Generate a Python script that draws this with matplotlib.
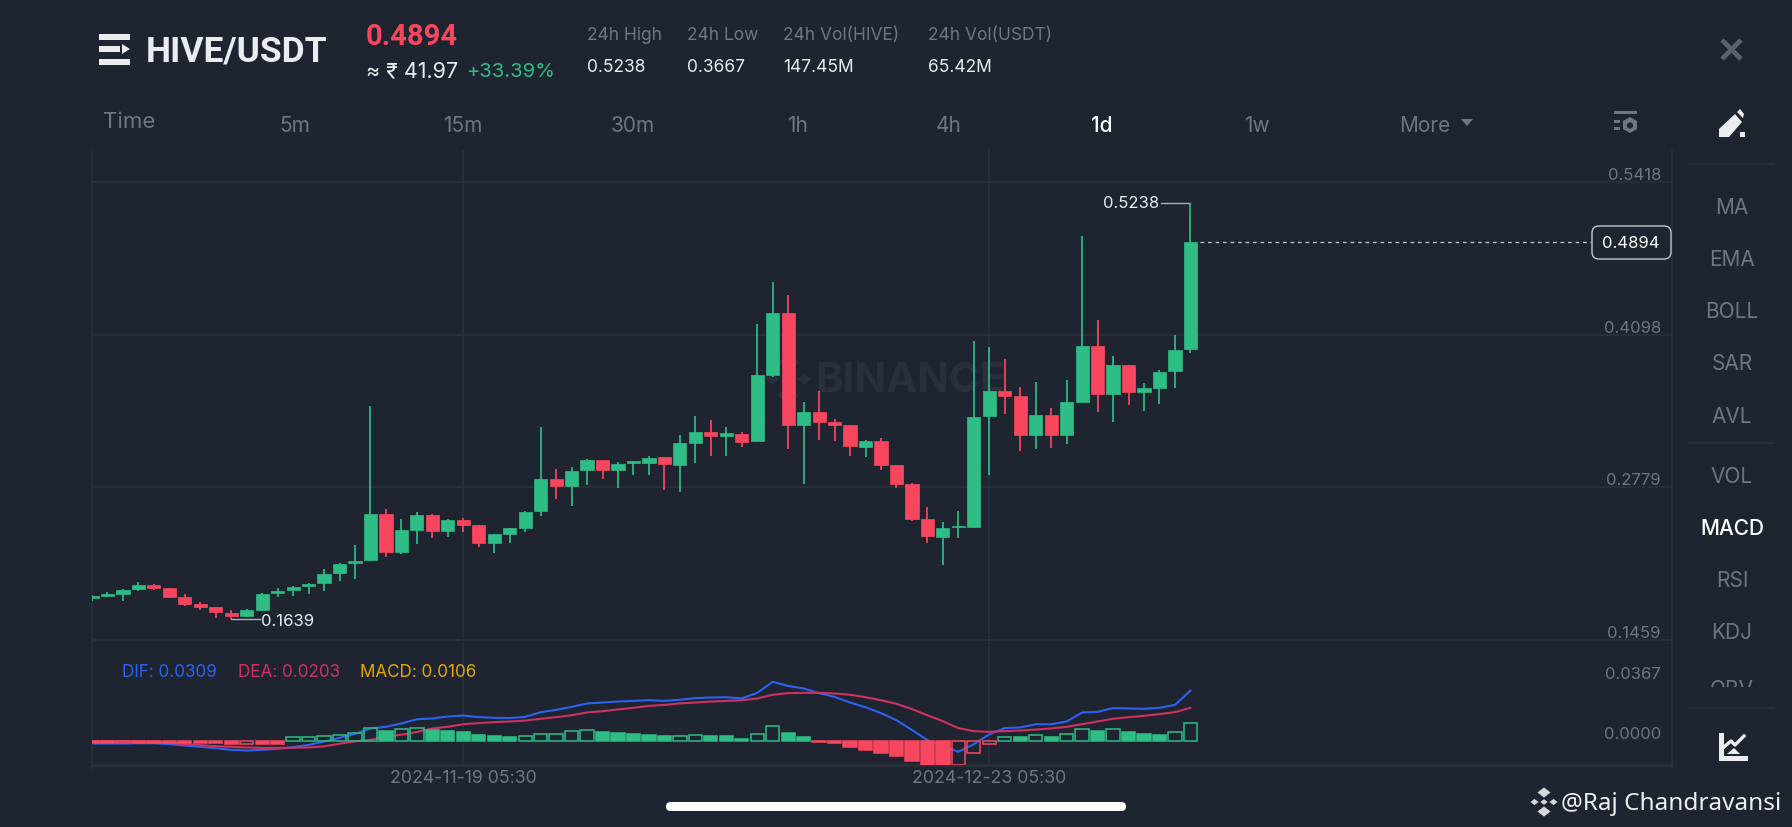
import matplotlib
matplotlib.use("Agg")
import matplotlib.pyplot as plt
from matplotlib.patches import FancyBboxPatch, Polygon, Rectangle

W, H = 1792, 828
BG = "#1e2530"
GRID = "#2b313c"
GREEN = "#2ebd85"
RED = "#f9465f"
MUTED = "#6f7682"
LIGHT = "#eaecef"
FONT = ["Inter", "DejaVu Sans"]
plt.rcParams["font.family"] = FONT

# candles, one value per day
opens = [.1824, .1841, .1859, .1896, .1936, .1908, .1827, .1772, .1743, .1695, .1663, .1715,
         .1862, .1887, .1922, .1948, .2037, .2121, .2147, .2550, .2216, .2409, .2541, .2400,
         .2498, .2449, .2299, .2377, .2426, .2570, .2847, .2786, .2927, .3016, .2924, .2987,
         .2990, .3036, .2973, .3160, .3255, .3223, .3238, .3174, .3750, .4280, .3313, .3425,
         .3341, .3313, .3125, .3177, .2967, .2806, .2501, .2351, .2431, .2434, .3390, .3609,
         .3563, .3229, .3405, .3229, .3517, .3998, .3586, .3837, .3598, .3635, .3779, .3969]
highs = [.1850, .1870, .1896, .1957, .1939, .1908, .1859, .1787, .1743, .1715, .1729, .1862,
         .1905, .1925, .1951, .2072, .2121, .2276, .3477, .2593, .2507, .2561, .2544, .2501,
         .2512, .2452, .2374, .2426, .2573, .3296, .2933, .2950, .3022, .3016, .2993, .3002,
         .3051, .3036, .3232, .3396, .3356, .3298, .3255, .4185, .4548, .4442, .3511, .3609,
         .3365, .3316, .3186, .3200, .2967, .2812, .2604, .2475, .2573, .4044, .3987, .3886,
         .3641, .3690, .3460, .3707, .4946, .4223, .3915, .3837, .3678, .3788, .4090, .5238]
lows = [.1795, .1827, .1798, .1882, .1893, .1821, .1752, .1720, .1646, .1639, .1660, .1712,
        .1833, .1839, .1856, .1879, .1968, .1985, .2144, .2178, .2199, .2285, .2343, .2345,
        .2391, .2262, .2210, .2294, .2389, .2530, .2677, .2619, .2795, .2849, .2771, .2884,
        .2881, .2754, .2737, .2987, .3051, .3051, .3128, .3172, .3730, .3108, .2809, .3186,
        .3180, .3048, .3036, .2927, .2771, .2486, .2293, .2106, .2339, .2429, .2886, .3411,
        .3088, .3108, .3117, .3154, .3511, .3425, .3344, .3485, .3437, .3497, .3635, .3938]
closes = [.1839, .1856, .1893, .1936, .1911, .1833, .1772, .1743, .1697, .1663, .1715, .1859,
          .1885, .1916, .1945, .2031, .2118, .2141, .2550, .2219, .2409, .2541, .2400, .2498,
          .2455, .2299, .2371, .2423, .2567, .2847, .2786, .2921, .3016, .2924, .2979, .3002,
          .3030, .2976, .3157, .3255, .3223, .3244, .3172, .3750, .4286, .3313, .3425, .3341,
          .3316, .3131, .3177, .2970, .2809, .2506, .2354, .2426, .2446, .3388, .3609, .3566,
          .3229, .3399, .3229, .3514, .3998, .3586, .3837, .3598, .3632, .3773, .3966, .4894]

# MACD panel
dif = [-.0019, -.0019, -.0019, -.0017, -.0017, -.0023, -.0031, -.0039, -.0048, -.0058, -.0062, -.0058,
       -.0052, -.0041, -.0027, -.0006, .0017, .0041, .0075, .0085, .0106, .0132, .0137, .0149,
       .0155, .0145, .0141, .0139, .0147, .0176, .0190, .0209, .0230, .0236, .0242, .0246,
       .0250, .0246, .0253, .0263, .0267, .0269, .0261, .0296, .0364, .0339, .0323, .0294,
       .0271, .0236, .0207, .0170, .0126, .0066, .0002, -.0033, -.0070, -.0023, .0039, .0077,
       .0081, .0101, .0101, .0118, .0174, .0178, .0201, .0199, .0197, .0203, .0221, .0309]
dea = [-.0004, -.0004, -.0005, -.0006, -.0006, -.0014, -.0023, -.0029, -.0035, -.0039, -.0043, -.0046,
       -.0046, -.0045, -.0043, -.0036, -.0020, -.0005, .0004, .0025, .0036, .0053, .0075, .0085,
       .0101, .0108, .0114, .0118, .0124, .0135, .0145, .0157, .0174, .0182, .0193, .0203,
       .0215, .0221, .0230, .0236, .0242, .0246, .0250, .0261, .0284, .0294, .0296, .0296,
       .0292, .0284, .0269, .0250, .0228, .0195, .0157, .0120, .0077, .0058, .0054, .0058,
       .0062, .0068, .0075, .0085, .0101, .0118, .0135, .0145, .0153, .0164, .0176, .0203]
macd = [-.0017, -.0018, -.0016, -.0016, -.0016, -.0016, -.0017, -.0017, -.0018, -.0020, -.0019, -.0019,
        -.0019, .0019, .0021, .0029, .0037, .0046, .0075, .0060, .0070, .0079, .0064, .0060,
        .0054, .0033, .0025, .0019, .0027, .0041, .0043, .0056, .0064, .0052, .0048, .0041,
        .0037, .0025, .0031, .0035, .0027, .0025, .0012, .0039, .0091, .0046, .0023, -.0008,
        -.0017, -.0043, -.0056, -.0077, -.0097, -.0126, -.0149, -.0153, -.0149, -.0079, -.0019, .0023,
        .0019, .0033, .0021, .0039, .0072, .0060, .0070, .0052, .0039, .0037, .0050, .0106]

price_ticks = [0.5418, 0.4098, 0.2779, 0.1459]
macd_ticks = [0.0367, 0.0000]
date_pos = [24, 58]
date_labels = ["2024-11-19 05:30", "2024-12-23 05:30"]
tabs = ["5m", "15m", "30m", "1h", "4h", "1d", "1w", "More"]
tab_x = [295, 463, 633, 797, 949, 1102, 1257, 1425]
side_items = ["MA", "EMA", "BOLL", "SAR", "AVL", "VOL", "MACD", "RSI", "KDJ", "OBV"]
side_y = [208, 260, 312, 364, 417, 477, 529, 581, 633, 690]
stat_names = ["24h High", "24h Low", "24h Vol(HIVE)", "24h Vol(USDT)"]
stat_vals = ["0.5238", "0.3667", "147.45M", "65.42M"]
stat_x = [587, 687, 783, 928]


def rect(l, t, r, b):
    return [l / W, 1 - b / H, (r - l) / W, (b - t) / H]


def pixel_axes(z):
    a = fig.add_axes([0, 0, 1, 1], zorder=z)
    a.set_xlim(0, W)
    a.set_ylim(H, 0)
    a.axis("off")
    a.patch.set_alpha(0)
    return a


def binance_logo(a, cx, cy, r, color):
    # five small diamonds, roughly the exchange logo
    for dx, dy, s in [(0, -.68, .36), (0, .68, .36), (-.68, 0, .22), (.68, 0, .22), (0, 0, .2)]:
        x, y = cx + dx * r, cy + dy * r
        q = s * r
        a.add_patch(Polygon([(x - q * 1.3, y), (x, y - q), (x + q * 1.3, y), (x, y + q)], fc=color, ec="none"))


fig = plt.figure(figsize=(W / 100, H / 100), dpi=100, facecolor=BG)

# watermark sits under the candles
back = pixel_axes(-1)
back.text(910, 381, "BINANCE", color="#2a303b", fontsize=30, fontweight="bold", ha="center", va="center")
binance_logo(back, 788, 380, 24, "#2a303b")

days = list(range(len(opens)))

ax = fig.add_axes(rect(92, 151, 1672, 641), zorder=1)
ax.patch.set_alpha(0)
colors = [GREEN if c >= o else RED for o, c in zip(opens, closes)]
ax.vlines(days, lows, highs, colors=colors, linewidth=1.25, zorder=3)
ax.bar(days, [abs(c - o) for o, c in zip(opens, closes)], bottom=[min(o, c) for o, c in zip(opens, closes)],
       width=0.85, color=colors, edgecolor=colors, linewidth=0.5, zorder=4)
ax.set_xlim(0, 102.13)
ax.set_ylim(0.1459, 0.5692)
ax.set_yticks(price_ticks)
ax.set_yticklabels([f"{t:.4f}" for t in price_ticks], color=MUTED, fontsize=12, ha="right", va="bottom")
ax.yaxis.tick_right()
ax.tick_params(axis="y", length=0, pad=-8)
ax.set_xticks(date_pos)
ax.tick_params(axis="x", length=0, labelbottom=False)
ax.grid(True, color=GRID, linewidth=1.1)
ax.set_axisbelow(True)

# high, low and last price markers
i_high = highs.index(max(highs))
i_low = lows.index(min(lows))
ax.plot([i_high - 1.9, i_high], [highs[i_high]] * 2, color="#aeb3ba", linewidth=1, zorder=2)
ax.text(i_high - 2, highs[i_high], f"{highs[i_high]:.4f}", color=LIGHT, fontsize=12, ha="right", va="center")
ax.plot([i_low, i_low + 1.85], [lows[i_low]] * 2, color="#aeb3ba", linewidth=1, zorder=2)
ax.text(i_low + 1.95, lows[i_low] - 0.0015, f"{lows[i_low]:.4f}", color=LIGHT, fontsize=12, ha="left", va="center")
ax.plot([len(days) - 0.4, 96.9], [closes[-1]] * 2, color="#c4c8ce", linewidth=0.9, linestyle=(0, (3, 3)), zorder=2)

ax2 = fig.add_axes(rect(92, 641, 1672, 766), zorder=1)
ax2.patch.set_alpha(0)
ax2.plot(days, dif, color="#2b62f0", linewidth=1.5, zorder=2)
ax2.plot(days, dea, color="#cf3160", linewidth=1.5, zorder=2)
for i, v in enumerate(macd):
    col = GREEN if v >= 0 else RED
    rising = i > 0 and v > macd[i - 1]
    ax2.bar(i, v, width=0.86, facecolor="none" if rising else col, edgecolor=col, linewidth=1.1, zorder=3)
ax2.set_xlim(0, 102.13)
ax2.set_ylim(-0.0152, 0.0624)
ax2.set_yticks(macd_ticks)
ax2.set_yticklabels([f"{t:.4f}" for t in macd_ticks], color=MUTED, fontsize=12, ha="right", va="bottom")
ax2.yaxis.tick_right()
ax2.tick_params(axis="y", length=0, pad=-8)
ax2.set_xticks(date_pos)
ax2.set_xticklabels(date_labels, color=MUTED, fontsize=12.8)
ax2.tick_params(axis="x", length=0, pad=3)
ax2.grid(True, axis="x", color=GRID, linewidth=1.1)
ax2.set_axisbelow(True)

for a in (ax, ax2):
    for name, s in a.spines.items():
        s.set_color(GRID)
        s.set_linewidth(1.1)
    a.spines["top"].set_visible(a is ax2)
ax2.spines["bottom"].set_linewidth(1.8)

# everything around the plots is placed in screen pixels
px = pixel_axes(5)
px.plot([92, 92], [766, 771], color=GRID, linewidth=1.1)
px.plot([1672, 1672], [766, 769], color=GRID, linewidth=1.1)

# header
for y in (38, 50, 63):
    px.add_patch(Rectangle((99, y - 3), 21 if y == 50 else 31, 6, fc=LIGHT, ec="none"))
px.add_patch(Polygon([(122, 45), (130, 50), (122, 55)], fc=LIGHT, ec="none"))
px.text(146, 52, "HIVE/USDT", color=LIGHT, fontsize=25.5, fontweight="bold", family="Roboto", ha="left", va="center")
px.text(366, 37, "0.4894", color=RED, fontsize=21, fontweight="bold", family="Roboto", ha="left", va="center")
px.text(366, 72, "≈ ₹ 41.97", color=LIGHT, fontsize=15.5, ha="left", va="center")
px.text(466, 72, "+33.39%", color=GREEN, fontsize=14.5, ha="left", va="center")
for name, val, x in zip(stat_names, stat_vals, stat_x):
    px.text(x, 36, name, color=MUTED, fontsize=12.5, ha="left", va="center")
    px.text(x, 68, val, color=LIGHT, fontsize=12.5, ha="left", va="center")

px.text(103, 122, "Time", color=MUTED, fontsize=16, ha="left", va="center")
for t, x in zip(tabs, tab_x):
    px.text(x, 126, t, color="white" if t == "1d" else MUTED, fontsize=15,
            fontweight="medium" if t == "1d" else "normal", ha="center", va="center")
px.add_patch(Polygon([(1461, 120), (1473, 120), (1467, 127)], fc=MUTED, ec="none"))

# settings icon
px.add_patch(Rectangle((1614, 112), 23, 3, fc=MUTED, ec="none"))
px.add_patch(Rectangle((1614, 121), 6, 3, fc=MUTED, ec="none"))
px.add_patch(Rectangle((1614, 128), 6, 3, fc=MUTED, ec="none"))
px.add_patch(Polygon([(1630, 118), (1637, 122), (1637, 130), (1630, 134), (1623, 130), (1623, 122)], fc=MUTED, ec="none"))
px.add_patch(Polygon([(1630, 123), (1633, 125), (1633, 128), (1630, 130), (1627, 128), (1627, 125)], fc=BG, ec="none"))

# close cross
px.plot([1722, 1741], [41, 60], color="#5c6370", linewidth=3.4, solid_capstyle="butt")
px.plot([1741, 1722], [41, 60], color="#5c6370", linewidth=3.4, solid_capstyle="butt")

# pencil icon
px.add_patch(Polygon([(1719, 138), (1719, 130), (1735, 115), (1742, 123), (1729, 138)], fc=LIGHT, ec="none"))
px.add_patch(Polygon([(1737, 113), (1740, 110), (1744, 115), (1743, 119)], fc=LIGHT, ec="none"))
px.add_patch(Rectangle((1740, 133), 5, 5, fc=LIGHT, ec="none"))

# side menu
for label, y in zip(side_items, side_y):
    active = label == "MACD"
    px.text(1732, y, label, color="white" if active else MUTED, fontsize=15,
            fontweight="medium" if active else "normal", ha="center", va="center")
px.add_patch(Rectangle((1685, 688), 95, 20, fc=BG, ec="none", zorder=4))
for y in (165, 444, 709):
    px.plot([1689, 1774], [y, y], color=GRID, linewidth=1.3, zorder=5)

# chart icon
px.plot([1721, 1721, 1745], [736, 759, 759], color=LIGHT, linewidth=3.6, solid_joinstyle="miter")
px.plot([1724, 1731, 1735, 1744], [748, 742, 746, 737], color=LIGHT, linewidth=2.4)
px.add_patch(Polygon([(1727, 755), (1734, 749), (1740, 755)], fc=LIGHT, ec="none"))

# last price tag
px.add_patch(FancyBboxPatch((1592, 227), 79, 33, boxstyle="round,pad=0,rounding_size=7",
                            fc=BG, ec="#c4c8ce", linewidth=1, mutation_aspect=1))
px.text(1631, 244, f"{closes[-1]:.4f}", color="white", fontsize=12, ha="center", va="center")

# legend of the MACD panel
px.text(122, 673, f"DIF: {dif[-1]:.4f}", color="#2b62f0", fontsize=12.3, ha="left", va="center")
px.text(238, 673, f"DEA: {dea[-1]:.4f}", color="#cf3160", fontsize=12.3, ha="left", va="center")
px.text(360, 673, f"MACD: {macd[-1]:.4f}", color="#e5a50a", fontsize=12.3, ha="left", va="center")

# home indicator and share watermark
px.add_patch(FancyBboxPatch((666, 803), 460, 9, boxstyle="round,pad=0,rounding_size=4.5", fc="white", ec="none"))
binance_logo(px, 1544, 803, 14, "#d5d7da")
px.text(1561, 804, "@Raj Chandravansi", color="#eeeeee", fontsize=17.5, family="Noto Sans", ha="left", va="center")

fig.savefig("out.png", dpi=100, facecolor=BG)
